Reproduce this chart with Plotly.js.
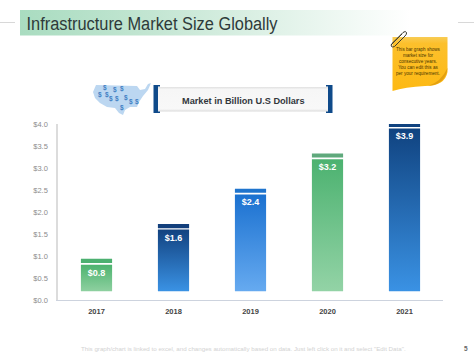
<!DOCTYPE html>
<html><head><meta charset="utf-8">
<script src="https://cdn.plot.ly/plotly-3.0.1.min.js"></script>
<style>
html,body{margin:0;padding:0;background:#fff;width:474px;height:355px;overflow:hidden}
#bg{position:absolute;left:0;top:0}
#chart{position:absolute;left:0;top:0;width:474px;height:355px}
</style></head><body>
<svg id="bg" width="474" height="355" xmlns="http://www.w3.org/2000/svg">
<defs>
<linearGradient id="band" x1="0" x2="1" y1="0" y2="0"><stop offset="0" stop-color="#a9dcc0"/><stop offset="0.35" stop-color="#c4e6d3"/><stop offset="1" stop-color="#ffffff"/></linearGradient>
<linearGradient id="panel" x1="0" x2="0" y1="0" y2="1"><stop offset="0" stop-color="#e0e0e0"/><stop offset="0.1" stop-color="#f6f6f6"/><stop offset="0.9" stop-color="#f8f8f8"/><stop offset="1" stop-color="#dadada"/></linearGradient>
<linearGradient id="noteTop" x1="0" x2="0" y1="0" y2="1"><stop offset="0" stop-color="#f8cc55"/><stop offset="0.12" stop-color="#fcc02c"/><stop offset="1" stop-color="#fdb913"/></linearGradient>
<linearGradient id="g0" x1="0" x2="0" y1="0" y2="1"><stop offset="0" stop-color="#4db36f"/><stop offset="1" stop-color="#8ed0a0"/></linearGradient>
<linearGradient id="g1" x1="0" x2="0" y1="0" y2="1"><stop offset="0" stop-color="#124280"/><stop offset="1" stop-color="#3a92e4"/></linearGradient>
<linearGradient id="g2" x1="0" x2="0" y1="0" y2="1"><stop offset="0" stop-color="#1b71d0"/><stop offset="1" stop-color="#66aaf0"/></linearGradient>
<linearGradient id="g3" x1="0" x2="0" y1="0" y2="1"><stop offset="0" stop-color="#4cb270"/><stop offset="1" stop-color="#93d3a6"/></linearGradient>
<linearGradient id="g4" x1="0" x2="0" y1="0" y2="1"><stop offset="0" stop-color="#104380"/><stop offset="1" stop-color="#3a92e4"/></linearGradient>
</defs>
<rect x="20" y="10" width="390" height="25.5" fill="url(#band)"/>
<rect x="0" y="22" width="15" height="1" fill="#d8d8d8"/>
<rect x="458" y="22" width="16" height="1" fill="#d8d8d8"/>
<path d="M392.5 37H447.5V72Q445 86 425 86Q405 87 392.5 91Z" fill="url(#noteTop)"/>
<path d="M447.5 68Q446 84 428 86Q441 82 447.5 68Z" fill="#e3a010"/>
<path d="M391 45L403 32.5Q405.5 30.5 406.5 32.5Q407 34 405 36L394.5 46.5Q392.5 47.5 391.5 46.5Q390.5 45 392 43.5L402 34" fill="none" stroke="#3a3a30" stroke-width="1"/>
<path d="M96 85L137 86L140 90L145 89L148 84L151 83L148 90L143 96L139 102L137 107L130 107L125 110L123 115L119 113L115 108L107 107L100 103L95 98L93 92Z" fill="#bcd7f1"/>
<rect x="158" y="87" width="170" height="24.5" fill="url(#panel)"/>
<path d="M153.5 85H160V86.5H158V111.5H160V113H153.5Z" fill="#0f4a8a"/>
<path d="M332.5 85H326V86.5H328V111.5H326V113H332.5Z" fill="#0f4a8a"/>
</svg>
<div id="chart"></div>
<script>
var years = ['2017','2018','2019','2020','2021'];
var marketSize = [0.8,1.6,2.4,3.2,3.9];
var barFloor = [0.2,0.2,0.2,0.2,0.2];
var capBase = [0.84,1.63,2.44,3.24,3.93];
var capHeight = [0.1,0.1,0.09,0.09,0.1];
var capColors = ['#4cb070','#123f7c','#1f74cd','#5fa97c','#0f427f'];
var bodyLabels = ['$0.8','$1.6','$2.4','$3.2','$3.9'];
var yTickLabels = ['$0.0','$0.5','$1.0','$1.5','$2.0','$2.5','$3.0','$3.5','$4.0'];
var yTickValues = [0,0.5,1,1.5,2,2.5,3,3.5,4];
var titleText = 'Infrastructure Market Size Globally';
var bannerText = 'Market in Billion U.S Dollars';
var noteText = 'This bar graph shows<br>market size for<br>consecutive years.<br>You can edit this as<br>per your requirement.';
var footerText = 'This graph/chart is linked to excel, and changes automatically based on data. Just left click on it and select "Edit Data".';
var mapDollars = [[105,87],[115,89],[122,88],[100,94],[107,94],[111,98],[117,98],[126,97],[131,101],[137,101],[122,107]];

var W=474,H=355,L=58,R=31,T=123.5,B=54.5;
function px(x){return (x-L)/(W-L-R);}
function py(y){return (H-B-y)/(H-T-B);}
function note(text,x,y,size,color,opts){
  return Object.assign({text:text,xref:'paper',yref:'paper',x:px(x),y:py(y),showarrow:false,xanchor:'center',yanchor:'middle',
    font:{family:'"Liberation Sans",Arial,sans-serif',size:size,color:color}},opts||{});
}
var anns=[
  note(titleText,151.5,23,18,'#2e3a3a',{}),
  note(bannerText,243,100,9.2,'#33373d',{font:{family:'"Liberation Sans",Arial,sans-serif',size:9.2,color:'#33373d',weight:700}}),
  note(noteText,418,61,4.6,'#4a3600',{}),
  note(footerText,243,349,6.2,'#d2d2d2',{}),
  note('5',465.5,349,6.5,'#666666',{font:{family:'"Liberation Sans",Arial,sans-serif',size:6.5,color:'#666666',weight:700}})
];
mapDollars.forEach(function(p){
  anns.push(note('$',p[0],p[1],6.5,'#3f80c4',{font:{family:'"Liberation Sans",Arial,sans-serif',size:6.5,color:'#3f80c4',weight:700}}));
});
var bodyTrace={type:'bar',x:years,y:marketSize.map(function(v,i){return v-barFloor[i];}),base:barFloor,width:0.405,
  marker:{color:capColors,line:{width:0}},text:bodyLabels,textposition:'inside',insidetextanchor:'end',textangle:0,
  constraintext:'none',insidetextfont:{family:'"Liberation Sans",Arial,sans-serif',size:9,color:'#ffffff',weight:700},cliponaxis:false,hoverinfo:'skip'};
var capTrace={type:'bar',x:years,y:capHeight,base:capBase,width:0.405,marker:{color:capColors,line:{width:0}},cliponaxis:false,hoverinfo:'skip'};
var layout={width:W,height:H,margin:{l:L,r:R,t:T,b:B,pad:0},paper_bgcolor:'rgba(0,0,0,0)',plot_bgcolor:'rgba(0,0,0,0)',
  barmode:'overlay',showlegend:false,annotations:anns,
  xaxis:{type:'category',categoryorder:'array',categoryarray:years,range:[-0.5,4.5],showgrid:false,zeroline:false,showline:true,linecolor:'#cdd3de',linewidth:1.2,ticks:'',ticklabelstandoff:4,
    tickfont:{family:'"Liberation Sans",Arial,sans-serif',size:7.5,color:'#444444',weight:700},fixedrange:true},
  yaxis:{range:[0,4],tickmode:'array',tickvals:yTickValues,ticktext:yTickLabels,showgrid:false,zeroline:false,showline:true,linecolor:'#dcdcdc',linewidth:1.6,ticks:'',ticklabelstandoff:7,
    tickfont:{family:'"Liberation Sans",Arial,sans-serif',size:7.5,color:'#8c8c8c'},fixedrange:true}};
Plotly.newPlot('chart',[bodyTrace,capTrace],layout,{staticPlot:true,displayModeBar:false}).then(function(){
  var traces=document.querySelectorAll('#chart .barlayer .trace');
  traces[0].querySelectorAll('.point path').forEach(function(p,i){p.style.fill='url(#g'+i+')';});
  document.querySelectorAll('#chart .annotation-text').forEach(function(t){
    if(t.textContent===titleText){t.setAttribute('textLength','251');t.setAttribute('lengthAdjust','spacingAndGlyphs');}
  });
});
</script>
</body></html>
